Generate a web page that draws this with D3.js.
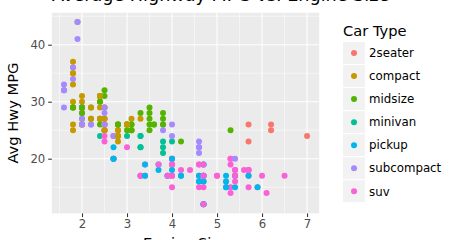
<!DOCTYPE html>
<html><head><meta charset="utf-8">
<script src="https://cdn.jsdelivr.net/npm/d3@7"></script>
<style>html,body{margin:0;padding:0;background:#fff;overflow:hidden}</style>
</head><body>
<script>
const categories = ["2seater","compact","midsize","minivan","pickup","subcompact","suv"];
const colors = ["#F8766D","#C49A00","#53B400","#00C094","#00B6EB","#A58AFF","#FB61D7"];
const xTicks = [2,3,4,5,6,7];
const yTicks = [20,30,40];
const displ = [1.8,1.8,2.0,2.0,2.8,2.8,3.1,1.8,1.8,2.0,2.0,2.8,2.8,3.1,3.1,
2.8,3.1,4.2,5.3,5.3,5.3,5.7,6.0,5.7,5.7,6.2,6.2,7.0,5.3,5.3,5.7,6.5,
2.4,2.4,3.1,3.5,3.6,2.4,3.0,3.3,3.3,3.3,3.3,3.3,3.8,3.8,3.8,4.0,
3.7,3.7,3.9,3.9,4.7,4.7,4.7,5.2,5.2,3.9,4.7,4.7,4.7,5.2,5.7,5.9,
4.7,4.7,4.7,4.7,4.7,4.7,5.2,5.2,5.7,5.9,4.6,5.4,5.4,4.0,4.0,4.0,4.0,4.6,5.0,
4.2,4.2,4.6,4.6,4.6,5.4,5.4,3.8,3.8,4.0,4.0,4.6,4.6,4.6,4.6,5.4,
1.6,1.6,1.6,1.6,1.6,1.8,1.8,1.8,2.0,2.4,2.4,2.4,2.4,2.5,2.5,3.3,
2.0,2.0,2.0,2.0,2.7,2.7,2.7,3.0,3.7,4.0,4.7,4.7,4.7,5.7,6.1,
4.0,4.2,4.4,4.6,5.4,5.4,5.4,4.0,4.0,4.6,5.0,2.4,2.4,2.5,2.5,3.5,3.5,
3.0,3.0,3.5,3.3,3.3,4.0,5.6,3.1,3.8,3.8,3.8,5.3,2.5,2.5,2.5,2.5,2.5,2.5,
2.2,2.2,2.5,2.5,2.5,2.5,2.5,2.5,2.7,2.7,3.4,3.4,4.0,4.7,
2.2,2.2,2.4,2.4,3.0,3.0,3.5,2.2,2.2,2.4,2.4,3.0,3.0,3.3,1.8,1.8,1.8,1.8,1.8,
4.7,5.7,2.7,2.7,2.7,3.4,3.4,4.0,4.0,2.0,2.0,2.0,2.0,2.8,
1.9,2.0,2.0,2.0,2.0,2.5,2.5,2.8,2.8,1.9,1.9,2.0,2.0,2.5,2.5,
1.8,1.8,2.0,2.0,2.8,2.8,3.6];
const hwy = [29,29,31,30,26,26,27,26,25,28,27,25,25,25,25,
24,25,23,20,15,20,17,17,26,23,26,25,24,19,14,15,17,
27,30,26,29,26,24,24,22,22,24,24,17,22,21,23,23,
19,18,17,17,19,19,12,17,15,17,17,12,17,16,18,15,
16,12,17,17,16,12,15,16,17,15,17,17,18,17,19,17,19,19,17,
17,17,16,16,17,15,17,26,25,26,24,21,22,23,22,20,
33,32,32,29,32,34,36,36,29,26,27,30,31,26,26,28,
26,29,28,27,24,24,24,22,19,20,17,12,19,18,14,
15,18,18,15,17,16,18,17,19,19,17,29,27,31,32,27,26,
26,25,25,17,17,20,18,26,26,27,28,25,25,24,27,25,26,23,
26,26,26,26,25,27,25,27,20,20,19,17,20,17,
29,27,31,31,26,26,28,27,29,31,31,26,26,27,30,33,35,37,35,
15,18,20,20,22,17,19,18,20,29,26,29,29,24,
44,29,26,29,29,29,29,23,24,44,41,29,26,28,29,
29,29,28,29,26,26,26];
const carClass = [1,1,1,1,1,1,1,1,1,1,1,1,1,1,1,
2,2,2,6,6,6,6,6,0,0,0,0,0,6,6,6,6,
2,2,2,2,2,3,3,3,3,3,3,3,3,3,3,3,
4,4,4,4,4,4,4,4,4,6,6,6,6,6,6,6,
4,4,4,4,4,4,4,4,4,4,6,6,6,6,6,6,6,6,6,
4,4,4,4,4,4,4,5,5,5,5,5,5,5,5,5,
5,5,5,5,5,5,5,5,5,2,2,2,2,2,2,2,
5,5,5,5,5,5,5,6,6,6,6,6,6,6,6,
6,6,6,6,6,6,6,6,6,6,6,1,1,2,2,2,2,
2,2,2,6,6,6,6,2,2,2,2,2,6,6,6,6,6,6,
5,5,5,5,1,1,1,1,6,6,6,6,6,6,
2,2,2,2,2,2,2,1,1,1,1,1,1,1,1,1,1,1,1,
6,6,4,4,4,4,4,4,4,1,1,1,1,1,
1,1,1,1,1,1,1,1,1,5,5,5,5,5,5,
2,2,2,2,2,2,2];

const W = 458, H = 240;
const svg = d3.select("body").append("svg").attr("width", W).attr("height", H)
  .style("font-family", "'DejaVu Sans', sans-serif");

const x = d3.scaleLinear().domain([1.33, 7.27]).range([51.85, 319.2]);
const y = d3.scaleLinear().domain([10.4, 45.6]).range([213.4, 12.8]);
const [x0, x1] = x.range(), [y0, y1] = y.range();

svg.append("rect").attr("x", x0).attr("y", y1).attr("width", x1 - x0).attr("height", y0 - y1).attr("fill", "#EBEBEB");

const xMinor = [1.5,2.5,3.5,4.5,5.5,6.5];
const yMinor = [15,25,35,45];
const g = svg.append("g");
g.selectAll(".xmin").data(xMinor).join("line").attr("x1", d => x(d)).attr("x2", d => x(d)).attr("y1", y0).attr("y2", y1).attr("stroke", "#fff").attr("stroke-width", 0.53);
g.selectAll(".ymin").data(yMinor).join("line").attr("y1", d => y(d)).attr("y2", d => y(d)).attr("x1", x0).attr("x2", x1).attr("stroke", "#fff").attr("stroke-width", 0.53);
g.selectAll(".xmaj").data(xTicks).join("line").attr("x1", d => x(d)).attr("x2", d => x(d)).attr("y1", y0).attr("y2", y1).attr("stroke", "#fff").attr("stroke-width", 1.07);
g.selectAll(".ymaj").data(yTicks).join("line").attr("y1", d => y(d)).attr("y2", d => y(d)).attr("x1", x0).attr("x2", x1).attr("stroke", "#fff").attr("stroke-width", 1.07);

const rows = displ.map((d, i) => ({d, h: hwy[i], c: carClass[i]}));
svg.append("g").selectAll("circle").data(rows).join("circle")
  .attr("cx", r => x(r.d)).attr("cy", r => y(r.h)).attr("r", 3)
  .attr("fill", r => colors[r.c]);

// axes
const xAxis = svg.append("g").attr("transform", `translate(0,${y0})`)
  .call(d3.axisBottom(x).tickValues(xTicks).tickSize(3.67).tickPadding(2.9).tickFormat(d3.format("d")));
const yAxis = svg.append("g").attr("transform", `translate(${x0},0)`)
  .call(d3.axisLeft(y).tickValues(yTicks).tickSize(3.67).tickPadding(2.9).tickFormat(d3.format("d")));
[xAxis, yAxis].forEach(a => {
  a.select(".domain").remove();
  a.selectAll(".tick line").attr("stroke", "#333333").attr("stroke-width", 1.07);
  a.selectAll(".tick text").attr("fill", "#4D4D4D").style("font-size", "11.7px").style("font-family", "'DejaVu Sans', sans-serif");
});

svg.append("text").attr("x", 52).attr("y", 1).attr("font-size", 17.6).attr("fill", "#000")
  .text("Average Highway MPG vs. Engine Size");
svg.append("text").attr("x", (x0 + x1) / 2).attr("y", 248.4).attr("text-anchor", "middle")
  .attr("font-size", 14.67).attr("fill", "#000").text("Engine Size");
svg.append("text").attr("transform", `translate(18,${(y0 + y1) / 2}) rotate(-90)`)
  .attr("text-anchor", "middle").attr("font-size", 14.67).attr("fill", "#000").text("Avg Hwy MPG");

// legend
const lg = svg.append("g");
lg.append("text").attr("x", 343).attr("y", 35.7).attr("font-size", 14.67).attr("fill", "#000").text("Car Type");
const key = 23.04, ky0 = 41.5;
const items = lg.selectAll(".item").data(categories).join("g")
  .attr("transform", (d, i) => `translate(342.5,${ky0 + i * key})`);
items.append("rect").attr("width", key).attr("height", key).attr("fill", "#F2F2F2").attr("stroke", "#fff").attr("stroke-width", 1.07);
items.append("circle").attr("cx", key / 2).attr("cy", key / 2).attr("r", 3).attr("fill", (d, i) => colors[i]);
items.append("text").attr("x", 26.6).attr("y", key / 2).attr("dy", "0.36em").attr("font-size", 11.8).attr("fill", "#000").text(d => d);
</script>
</body></html>
